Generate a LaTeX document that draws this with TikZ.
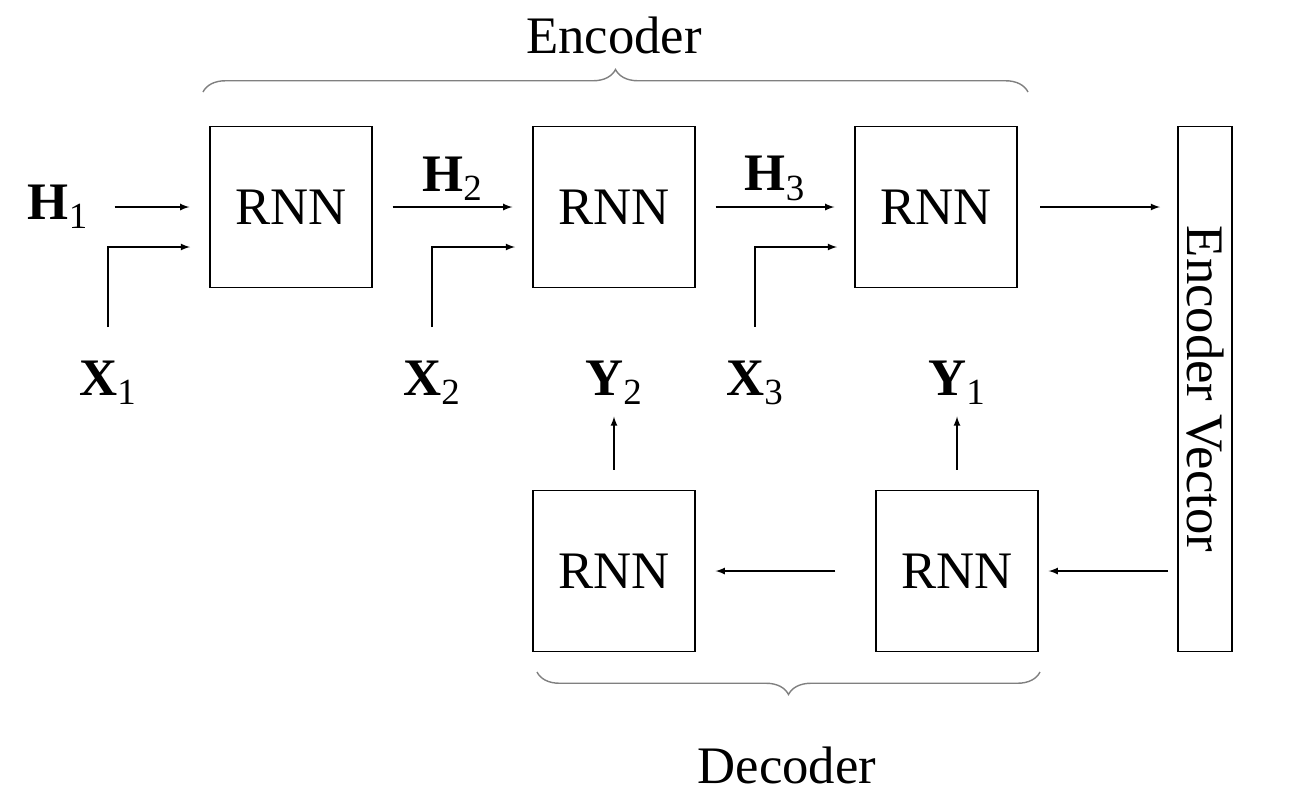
\documentclass[tikz,border=0pt]{standalone}
\usepackage{fontspec}
\setmainfont{Liberation Serif}
\usetikzlibrary{decorations.pathreplacing}
\newcommand{\vecsub}[2]{\textbf{#1}\textsubscript{#2}}
\begin{document}
\begin{tikzpicture}[x=0.02cm,y=-0.02cm,>=latex,thick,
      rnn/.style={draw,minimum width=3.24cm,minimum height=3.22cm,font=\fontsize{30}{36}\selectfont},
      lbl/.style={font=\fontsize{30}{36}\selectfont},
      brace/.style={draw=gray,decorate,decoration={brace,amplitude=0.45cm}}]
      \useasboundingbox (0,0) rectangle (1302,806);

      % encoder
      \node[rnn] (E1) at (291,207) {RNN};
      \node[rnn] (E2) at (614,207) {RNN};
      \node[rnn] (E3) at (936,207) {RNN};
      \node[draw,minimum width=10.5cm,minimum height=1.08cm,lbl,rotate=-90] (V) at (1205,389) {Encoder Vector};

      % decoder
      \node[rnn] (D2) at (614,571) {RNN};
      \node[rnn] (D1) at (957,571) {RNN};

      % inputs and outputs
      \node[lbl] (H1) at (58,207) {\vecsub{H}{1}};
      \node[lbl] (X1) at (108,383) {\vecsub{X}{1}};
      \node[lbl] (X2) at (432,383) {\vecsub{X}{2}};
      \node[lbl] (X3) at (755,383) {\vecsub{X}{3}};
      \node[lbl] (Y2) at (614,383) {\vecsub{Y}{2}};
      \node[lbl] (Y1) at (957,383) {\vecsub{Y}{1}};
      \coordinate (a1) at (190,247);
      \coordinate (a2) at (515,247);
      \coordinate (a3) at (837,247);
      \coordinate (vin) at (1160,207);
      \coordinate (vout) at (1168,571);

      \draw[->] ([xshift=0.4cm]H1.east) -- ([xshift=-0.4cm]E1.west);
      \draw[->] ([xshift=0.4cm]E1.east) -- node[lbl,above] {\vecsub{H}{2}} ([xshift=-0.4cm]E2.west);
      \draw[->] ([xshift=0.4cm]E2.east) -- node[lbl,above] {\vecsub{H}{3}} ([xshift=-0.4cm]E3.west);
      \draw[->] ([xshift=0.45cm]E3.east) -- (vin);
      \draw[->] ([yshift=0.55cm]X1.north) |- (a1);
      \draw[->] ([yshift=0.55cm]X2.north) |- (a2);
      \draw[->] ([yshift=0.55cm]X3.north) |- (a3);
      \draw[->] (vout) -- ([xshift=0.2cm]D1.east);
      \draw[->] ([xshift=-0.8cm]D1.west) -- ([xshift=0.4cm]D2.east);
      \draw[->] ([yshift=0.4cm]D1.north) -- ([yshift=-0.1cm]Y1.south);
      \draw[->] ([yshift=0.4cm]D2.north) -- ([yshift=-0.1cm]Y2.south);

      % braces
      \draw[brace] (203,92) -- (1028,92);
      \node[lbl] at (614,35) {Encoder};
      \draw[brace] (1040,672) -- (537,672);
      \node[lbl] at (787,765) {Decoder};
\end{tikzpicture}
\end{document}
